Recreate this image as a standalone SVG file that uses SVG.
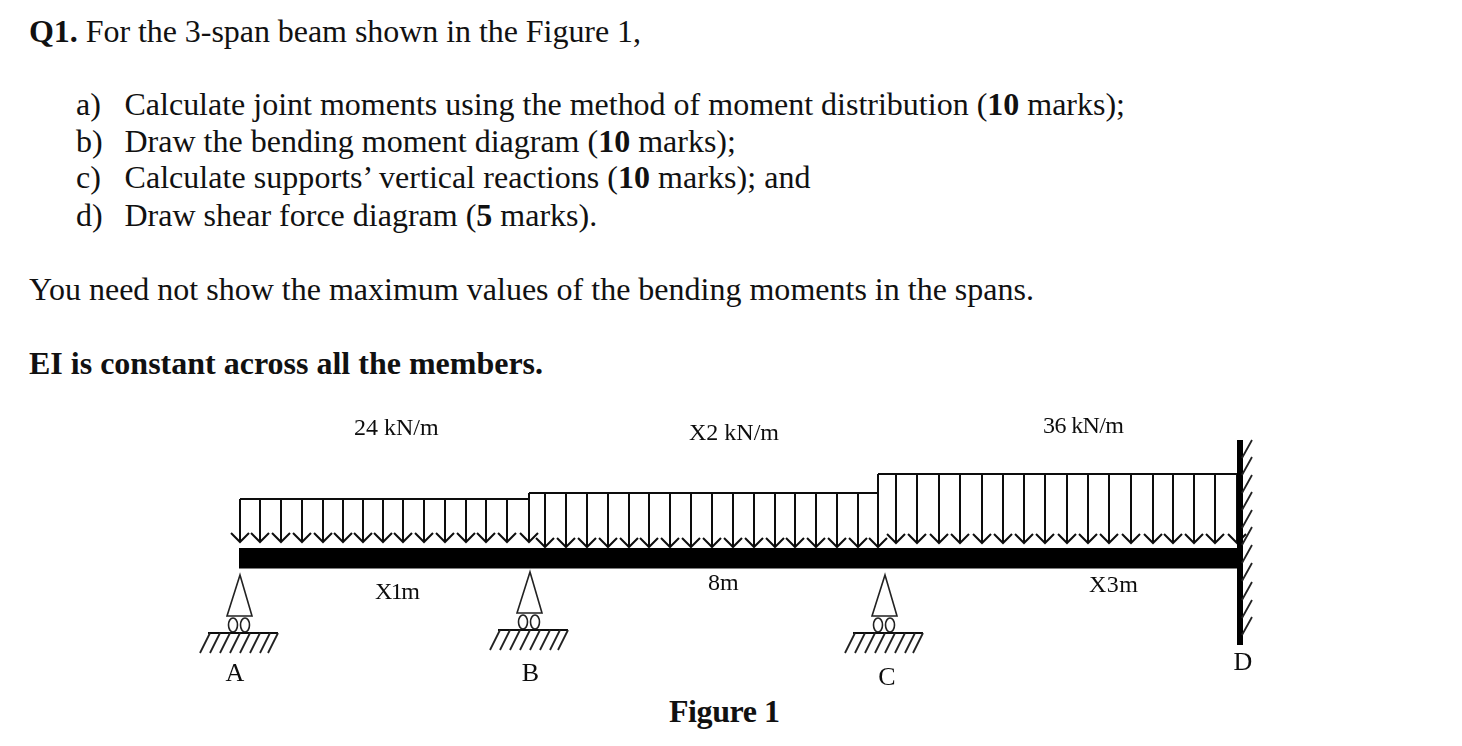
<svg xmlns="http://www.w3.org/2000/svg" width="1462" height="746" viewBox="0 0 1462 746">
<style>
text{font-family:"Liberation Serif","Times New Roman",serif;fill:#111}
.q{font-size:32px}
.l{font-size:24px}
.p{font-size:26px}
.b{font-weight:bold}
.ln{fill:none;stroke:#111;stroke-width:2}
.s{fill:none;stroke:#222;stroke-width:1.6}
.h{fill:none;stroke:#222;stroke-width:1.8}
</style>
<defs>
<filter id="soft" x="-5%" y="-5%" width="110%" height="110%"><feGaussianBlur stdDeviation="0.5"/></filter>
<path id="head" class="ln" d="M-9,-9 L0,0 L9,-9"/>
<g id="support">
<path class="s" d="M0,0 L-13,41 L12,41 Z"/>
<ellipse class="s" cx="-7" cy="50" rx="4.5" ry="7"/>
<ellipse class="s" cx="5" cy="50" rx="4.5" ry="7"/>
<path class="ln" d="M-32,58 H38"/>
<path class="h" d="M-30,58 L-40,78 M-20,58 L-30,78 M-10,58 L-20,78 M0,58 L-10,78 M10,58 L0,78 M20,58 L10,78 M30,58 L20,78 M38,58 L28,78"/>
</g>
</defs>
<rect width="1462" height="746" fill="#fff"/>
<g id="question">
<text class="q" x="29" y="41.5" textLength="612"><tspan class="b">Q1.</tspan> For the 3-span beam shown in the Figure 1,</text>
<text class="q" x="76" y="115">a)</text><text class="q" x="124.5" y="115" textLength="1000.5">Calculate joint moments using the method of moment distribution (<tspan class="b">10</tspan> marks);</text>
<text class="q" x="76" y="151.5">b)</text><text class="q" x="124.5" y="151.5">Draw the bending moment diagram (<tspan class="b">10</tspan> marks);</text>
<text class="q" x="76" y="188">c)</text><text class="q" x="124.5" y="188" textLength="686">Calculate supports’ vertical reactions (<tspan class="b">10</tspan> marks); and</text>
<text class="q" x="76" y="225.5">d)</text><text class="q" x="124.5" y="225.5">Draw shear force diagram (<tspan class="b">5</tspan> marks).</text>
<text class="q" x="29" y="299.5" textLength="1005">You need not show the maximum values of the bending moments in the spans.</text>
<text class="q b" x="29" y="373.5">EI is constant across all the members.</text>
</g>
<g id="figure" filter="url(#soft)">
<g id="load-1">
<path class="ln" d="M240,499 H529 M240,499 V542 M260,499 V542 M281,499 V542 M302,499 V542 M323,499 V542 M343,499 V542 M363,499 V542 M383,499 V542 M403,499 V542 M424,499 V542 M445,499 V542 M466,499 V542 M486,499 V542 M507,499 V542 M529,493 V542"/>
<use href="#head" x="240" y="542"/><use href="#head" x="260" y="542"/><use href="#head" x="281" y="542"/><use href="#head" x="302" y="542"/><use href="#head" x="323" y="542"/><use href="#head" x="343" y="542"/><use href="#head" x="363" y="542"/><use href="#head" x="383" y="542"/><use href="#head" x="403" y="542"/><use href="#head" x="424" y="542"/><use href="#head" x="445" y="542"/><use href="#head" x="466" y="542"/><use href="#head" x="486" y="542"/><use href="#head" x="507" y="542"/><use href="#head" x="529" y="542"/>
</g>
<g id="load-2">
<path class="ln" d="M529,493 H878 M545,493 V547 M566,493 V547 M587,493 V547 M608,493 V547 M629,493 V547 M649,493 V547 M670,493 V547 M691,493 V547 M712,493 V547 M733,493 V547 M754,493 V547 M775,493 V547 M795,493 V547 M816,493 V547 M837,493 V547 M858,493 V547 M878,474 V547"/>
<use href="#head" x="545" y="547"/><use href="#head" x="566" y="547"/><use href="#head" x="587" y="547"/><use href="#head" x="608" y="547"/><use href="#head" x="629" y="547"/><use href="#head" x="649" y="547"/><use href="#head" x="670" y="547"/><use href="#head" x="691" y="547"/><use href="#head" x="712" y="547"/><use href="#head" x="733" y="547"/><use href="#head" x="754" y="547"/><use href="#head" x="775" y="547"/><use href="#head" x="795" y="547"/><use href="#head" x="816" y="547"/><use href="#head" x="837" y="547"/><use href="#head" x="858" y="547"/><use href="#head" x="878" y="547"/>
</g>
<g id="load-3">
<path class="ln" d="M878,474 H1237 M896,474 V543 M917,474 V543 M939,474 V543 M960,474 V543 M982,474 V543 M1003,474 V543 M1024,474 V543 M1045,474 V543 M1067,474 V543 M1088,474 V543 M1109,474 V543 M1131,474 V543 M1153,474 V543 M1173,474 V543 M1194,474 V543 M1215,474 V543 M1237,474 V543"/>
<use href="#head" x="896" y="543"/><use href="#head" x="917" y="543"/><use href="#head" x="939" y="543"/><use href="#head" x="960" y="543"/><use href="#head" x="982" y="543"/><use href="#head" x="1003" y="543"/><use href="#head" x="1024" y="543"/><use href="#head" x="1045" y="543"/><use href="#head" x="1067" y="543"/><use href="#head" x="1088" y="543"/><use href="#head" x="1109" y="543"/><use href="#head" x="1131" y="543"/><use href="#head" x="1153" y="543"/><use href="#head" x="1173" y="543"/><use href="#head" x="1194" y="543"/><use href="#head" x="1215" y="543"/><use href="#head" x="1237" y="543"/>
</g>
<rect id="beam" x="239" y="548" width="1001" height="20.5" fill="#000"/>
<g id="support-A"><use href="#support" x="240" y="575"/></g>
<g id="support-B"><use href="#support" x="530" y="572"/></g>
<g id="support-C"><use href="#support" x="885" y="575"/></g>
<g id="wall-D">
<rect x="1237" y="440" width="6" height="205" fill="#000"/>
<path class="h" d="M1252,440 L1242,458 M1252,457 L1242,475 M1252,475 L1242,493 M1252,492 L1242,510 M1252,510 L1242,528 M1252,527 L1242,545 M1252,545 L1242,563 M1252,563 L1242,581 M1252,582 L1242,600 M1252,600 L1242,618 M1252,617 L1242,635"/>
</g>
<g id="labels">
<text class="l" x="354" y="435">24 kN/m</text>
<text class="l" x="689" y="440">X2 kN/m</text>
<text class="l" x="1043" y="433" textLength="81">36 kN/m</text>
<text class="l" x="375" y="599" textLength="45">X1m</text>
<text class="l" x="708" y="590">8m</text>
<text class="l" x="1089" y="592" textLength="49">X3m</text>
<text class="p" x="235" y="681" text-anchor="middle">A</text>
<text class="p" x="530.5" y="681" text-anchor="middle">B</text>
<text class="p" x="887" y="685" text-anchor="middle">C</text>
<text class="p" x="1243" y="670" text-anchor="middle">D</text>
</g>
</g>
<text id="caption" class="q b" x="669" y="722" textLength="111">Figure 1</text>
</svg>
